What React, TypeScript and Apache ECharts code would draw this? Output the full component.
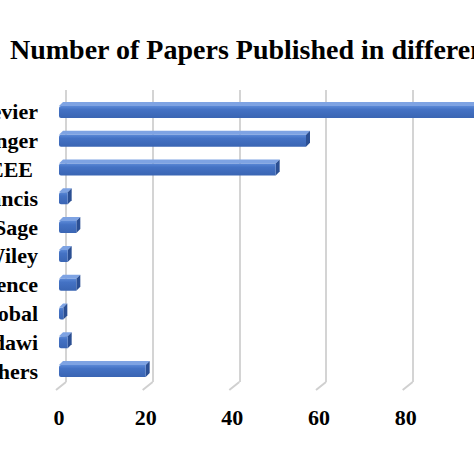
import React, { useEffect, useRef } from "react";
import * as echarts from "echarts";

const categories = [
  "Elsevier",
  "Springer",
  "IEEE",
  "Taylor & Francis",
  "Sage",
  "Wiley",
  "Inderscience",
  "IGI Global",
  "Hindawi",
  "Others",
];
const papers = [100, 57, 50, 2, 4, 2, 4, 1, 2, 20];
const xTicks = [0, 20, 40, 60, 80, 100, 120];
const titleText = "Number of Papers Published in different Publishers";

const SHIFT = 60; // part of the chart that lies left of the visible window
const CHART_W = 660;
const CHART_H = 474;
const SERIF = "'Liberation Serif', 'Times New Roman', serif";

export default function App() {
  const ref = useRef<HTMLDivElement>(null);

  useEffect(() => {
    if (!ref.current) return;
    const chart = echarts.init(ref.current, null, { renderer: "svg" });
    const catsRev = [...categories].reverse();
    const valsRev = [...papers].reverse();

    const renderBar = (params: any, api: any) => {
      const cat = api.value(0);
      const val = api.value(1);
      const start = api.coord([0, cat]);
      const end = api.coord([val, cat]);
      const h = 12;
      const dx = 4;
      const dy = -4;
      const x0 = start[0];
      const x1 = end[0];
      const yTop = start[1] - h / 2;
      const yBot = start[1] + h / 2;
      return {
        type: "group",
        children: [
          {
            type: "polygon",
            shape: {
              points: [
                [x0, yTop],
                [x0 + dx, yTop + dy],
                [x1 + dx, yTop + dy],
                [x1, yTop],
              ],
            },
            style: { fill: "#7ea3e3" },
          },
          {
            type: "polygon",
            shape: {
              points: [
                [x1, yTop],
                [x1 + dx, yTop + dy],
                [x1 + dx, yBot + dy],
                [x1, yBot],
              ],
            },
            style: { fill: "#2b4f93" },
          },
          {
            type: "rect",
            shape: { x: x0, y: yTop, width: Math.max(x1 - x0, 0), height: h, r: [2, 0, 0, 2] },
            style: {
              fill: new echarts.graphic.LinearGradient(0, 0, 0, 1, [
                { offset: 0, color: "#5a88d6" },
                { offset: 0.3, color: "#4472c4" },
                { offset: 1, color: "#3a65b3" },
              ]),
            },
          },
        ],
      };
    };

    const renderFloor = (params: any, api: any) => {
      const v = api.value(0);
      const cs = params.coordSys;
      const x = api.coord([v, 0])[0];
      const yb = cs.y + cs.height;
      return {
        type: "line",
        shape: { x1: x - 10, y1: yb + 8, x2: x, y2: yb },
        style: { stroke: "#d0d0d0", lineWidth: 2 },
      };
    };

    chart.setOption({
      animation: false,
      backgroundColor: "#ffffff",
      title: {
        text: titleText,
        left: SHIFT + 5,
        top: 30,
        textStyle: {
          fontFamily: SERIF,
          fontWeight: "bold",
          fontSize: 28,
          color: "#000",
        },
      },
      grid: [
        {
          left: SHIFT + 66,
          width: 520,
          top: 90,
          bottom: CHART_H - 382,
          containLabel: false,
          outerBoundsMode: "none",
        },
        {
          left: SHIFT + 59,
          width: 520,
          top: 97.6,
          bottom: CHART_H - 385.4,
          containLabel: false,
          outerBoundsMode: "none",
        },
      ],
      xAxis: [
        {
          gridIndex: 0,
          type: "value",
          min: 0,
          max: 120,
          interval: 20,
          axisLabel: { show: false },
          axisLine: { show: false },
          axisTick: { show: false },
          splitLine: { show: true, lineStyle: { color: "#d4d4d4", width: 2 } },
        },
        {
          gridIndex: 1,
          type: "value",
          min: 0,
          max: 120,
          interval: 20,
          axisLabel: {
            margin: 21,
            fontFamily: SERIF,
            fontWeight: "bold",
            fontSize: 22,
            color: "#000",
          },
          axisLine: { show: false },
          axisTick: { show: false },
          splitLine: { show: false },
        },
      ],
      yAxis: [
        {
          gridIndex: 0,
          type: "category",
          data: catsRev,
          axisLabel: { show: false },
          axisLine: { show: false },
          axisTick: { show: false },
        },
        {
          gridIndex: 1,
          type: "category",
          data: catsRev,
          axisLabel: {
            margin: 21,
            fontFamily: SERIF,
            fontWeight: "bold",
            fontSize: 22,
            color: "#000",
            formatter: (v: string) => (v === "IEEE" ? "{ieee|IEEE}" : v),
            rich: {
              ieee: {
                fontFamily: SERIF,
                fontWeight: "bold",
                fontSize: 22,
                color: "#000",
                padding: [0, 5, 0, 0],
              },
            },
          },
          axisLine: { show: false },
          axisTick: { show: false },
        },
      ],
      series: [
        {
          type: "custom",
          xAxisIndex: 0,
          yAxisIndex: 0,
          data: xTicks.map((t) => [t]),
          encode: { x: 0 },
          renderItem: renderFloor,
          silent: true,
        },
        {
          type: "custom",
          name: "Papers",
          xAxisIndex: 1,
          yAxisIndex: 1,
          data: catsRev.map((c, i) => [i, valsRev[i]]),
          encode: { y: 0, x: 1 },
          renderItem: renderBar,
        },
      ],
    });
    return () => chart.dispose();
  }, []);

  return (
    <div
      style={{
        position: "fixed",
        left: 0,
        top: 0,
        width: 474,
        height: 474,
        overflow: "hidden",
        background: "#fff",
      }}
    >
      <div
        ref={ref}
        style={{ position: "absolute", left: -SHIFT, top: 0, width: CHART_W, height: CHART_H }}
      />
    </div>
  );
}
